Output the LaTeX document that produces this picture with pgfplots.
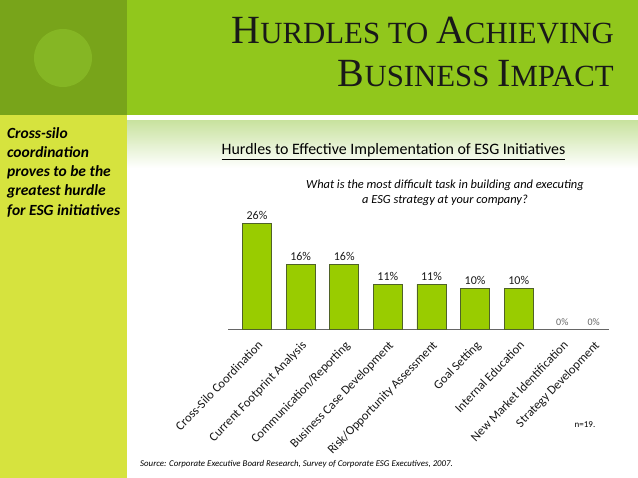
\documentclass[border=0pt]{standalone}
\usepackage{fontspec}
\usepackage{pgfplots}
\pgfplotsset{compat=1.18}
\setmainfont{Carlito}
\newfontfamily\titlefont{Liberation Serif}
\definecolor{topgreen}{RGB}{145,199,28}
\definecolor{darksq}{RGB}{120,164,26}
\definecolor{circ}{RGB}{133,182,36}
\definecolor{leftcol}{RGB}{214,227,62}
\definecolor{bandtop}{RGB}{200,226,158}
\definecolor{barfill}{RGB}{153,204,0}
\definecolor{baredge}{RGB}{79,98,40}
\newcommand\BIG[1]{{\fontsize{40}{44}\selectfont #1}}
\newcommand\SMA[1]{{\fontsize{30.8}{34}\selectfont #1}}
\begin{document}
\begin{tikzpicture}
\useasboundingbox (0,0) rectangle (638pt,478pt);
\begin{scope}[x=1pt,y=-1pt,yshift=478pt]
  \fill[white] (0,0) rectangle (638,478);
  \fill[topgreen] (0,0) rectangle (638,115);
  \fill[darksq] (0,0) rectangle (127,115);
  \fill[circ] (63,58) circle[radius=29];
  \fill[leftcol] (0,115) rectangle (127,478);
  \shade[top color=bandtop, bottom color=white] (127,120) rectangle (638,168);
  \fill[white] (127,115) rectangle (638,120);
  % title
  \node[anchor=base east, inner sep=0, text=black!90] at (614,44)
    {\titlefont\BIG{H}\SMA{URDLES TO }\BIG{A}\SMA{CHIEVING}};
  \node[anchor=base east, inner sep=0, text=black!90] at (614,87)
    {\titlefont\BIG{B}\SMA{USINESS }\BIG{I}\SMA{MPACT}};
  % left text
  \node[anchor=north west, inner sep=0, align=left,
        font=\fontsize{15.5}{19.3}\selectfont\bfseries\itshape] at (7,127)
    {Cross-silo\\coordination\\proves to be the\\greatest hurdle\\for ESG initiatives};
  % chart title
  \node[anchor=base, inner sep=0, font=\fontsize{15.9}{18}\selectfont] at (393.5,155)
    {\underline{Hurdles to Effective Implementation of ESG Initiatives}};
  \node[anchor=base, inner sep=0, font=\fontsize{12.4}{14}\selectfont\itshape] at (445,189)
    {What is the most difficult task in building and executing};
  \node[anchor=base, inner sep=0, font=\fontsize{12.4}{14}\selectfont\itshape] at (445,204)
    {a ESG strategy at your company?};
  \node[anchor=base, inner sep=0, font=\fontsize{9}{10}\selectfont] at (585,428) {n=19.};
  \node[anchor=base west, inner sep=0, font=\fontsize{8.85}{10}\selectfont\itshape] at (140,467)
    {Source: Corporate Executive Board Research, Survey of Corporate ESG Executives, 2007.};
\end{scope}
\begin{axis}[
  at={(228pt,148.7pt)}, anchor=south west,
  scale only axis, width=381pt, height=122.3pt,
  xmin=-0.665, xmax=8.07, ymin=0, ymax=30,
  axis x line=bottom, axis y line=none,
  x axis line style={-, draw=black!60, line width=0.9pt},
  xtick={0,1,2,3,4,5,6,7,7.72},
  xticklabels={Cross-Silo Coordination, Current Footprint Analysis, Communication/Reporting, Business Case Development, Risk/Opportunity Assessment, Goal Setting, Internal Education, New Market Identification, Strategy Development},
  major tick length=0pt,
  xticklabel shift=9pt,
  x tick label style={rotate=46, anchor=north east, font=\fontsize{12.6}{14}\selectfont, inner sep=1pt, text=black!90},
  /pgf/number format/assume math mode=true,
  clip=false,
]
\addplot[ybar, bar width=29pt, bar shift=0pt, fill=barfill, draw=baredge, line width=0.6pt,
  nodes near coords={\pgfmathprintnumber{\pgfplotspointmeta}\%},
  every node near coord/.append style={font=\fontsize{12}{14}\selectfont, text=black!90}]
  coordinates {(0,26) (1,16) (2,16) (3,11) (4,11) (5,10) (6,10)};
\addplot[ybar, bar width=29pt, bar shift=0pt, draw=none, fill=none,
  nodes near coords={\pgfmathprintnumber{\pgfplotspointmeta}\%},
  every node near coord/.append style={font=\fontsize{10}{12}\selectfont, text=black!60}]
  coordinates {(7,0) (7.72,0)};
\end{axis}
\end{tikzpicture}
\end{document}
